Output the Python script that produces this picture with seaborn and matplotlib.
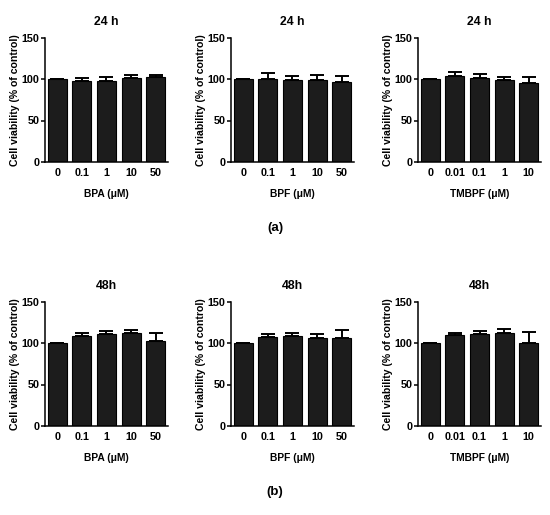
import numpy as np
import pandas as pd
import matplotlib
matplotlib.use("Agg")
import matplotlib.pyplot as plt
import seaborn as sns

# concentrations (tick labels) per compound
bpa_doses = ["0", "0.1", "1", "10", "50"]
bpf_doses = ["0", "0.1", "1", "10", "50"]
tmbpf_doses = ["0", "0.01", "0.1", "1", "10"]

# 24 h viability (% of control) and SD
bpa_24 = [100, 97, 98, 101, 102]
bpa_24_sd = [0, 4, 4.5, 4, 3]
bpf_24 = [100, 100, 99, 99, 96.5]
bpf_24_sd = [0, 7, 5, 5.5, 7]
tmbpf_24 = [100, 104, 101.5, 99, 95.5]
tmbpf_24_sd = [0, 4, 4.5, 3.5, 7]

# 48 h viability (% of control) and SD
bpa_48 = [100, 108.5, 111, 112, 103]
bpa_48_sd = [0, 4, 3, 4, 9.5]
bpf_48 = [100, 107, 108, 106.5, 106.5]
bpf_48_sd = [0, 3.5, 4, 4.5, 9]
tmbpf_48 = [100, 110, 111, 112, 99.5]
tmbpf_48_sd = [0, 1.5, 3.5, 4.5, 14]

sns.set_style("ticks")
plt.rcParams["font.family"] = ["Liberation Sans", "DejaVu Sans"]
plt.rcParams["font.weight"] = "bold"
plt.rcParams["text.color"] = "black"
plt.rcParams["axes.labelcolor"] = "black"

fig = plt.figure(figsize=(5.5, 5.15), dpi=100)
W, H = 550.0, 515.0


def panel(left_px, bottom_px, doses, vals, sds, title, xlabel):
    ax = fig.add_axes([left_px / W, (H - bottom_px) / H, 123 / W, 124.5 / H])
    df = pd.DataFrame({"dose": doses, "viability": vals})
    sns.barplot(data=df, x="dose", y="viability", order=doses, color="#1c1c1c",
                edgecolor="black", linewidth=0.8, width=0.77, ax=ax)
    x = np.arange(len(doses))
    lower = np.zeros(len(sds))
    ax.errorbar(x, vals, yerr=[lower, sds], fmt="none", ecolor="black",
                elinewidth=1.4, capsize=5, capthick=1.4)
    ax.set_xlim(-0.5, len(doses) - 0.5)
    ax.set_ylim(0, 150)
    ax.set_yticks([0, 50, 100, 150])
    sns.despine(ax=ax)
    for s in ["left", "bottom"]:
        ax.spines[s].set_linewidth(1.1)
        ax.spines[s].set_color("black")
    ax.tick_params(axis="y", length=3, width=1.1, labelsize=7.8, pad=1, colors="black")
    ax.tick_params(axis="x", length=0, labelsize=7.8, pad=4, colors="black")
    for lab in ax.get_xticklabels() + ax.get_yticklabels():
        lab.set_fontweight("bold")
    ax.set_title(title, fontsize=8.8, fontweight="bold", pad=9, color="black")
    ax.set_xlabel(xlabel, fontsize=7.4, fontweight="bold", labelpad=8)
    ax.set_ylabel("Cell viability (% of control)", fontsize=7.6, fontweight="bold", labelpad=1)
    return ax


lefts = [45, 231, 418]
panel(lefts[0], 162, bpa_doses, bpa_24, bpa_24_sd, "24 h", "BPA (\u03bcM)")
panel(lefts[1], 162, bpf_doses, bpf_24, bpf_24_sd, "24 h", "BPF (\u03bcM)")
panel(lefts[2], 162, tmbpf_doses, tmbpf_24, tmbpf_24_sd, "24 h", "TMBPF (\u03bcM)")
panel(lefts[0], 426, bpa_doses, bpa_48, bpa_48_sd, "48h", "BPA (\u03bcM)")
panel(lefts[1], 426, bpf_doses, bpf_48, bpf_48_sd, "48h", "BPF (\u03bcM)")
panel(lefts[2], 426, tmbpf_doses, tmbpf_48, tmbpf_48_sd, "48h", "TMBPF (\u03bcM)")

fig.text(0.5, 1 - 228 / H, "(a)", ha="center", va="center", fontsize=9.5, fontweight="bold")
fig.text(0.5, 1 - 492 / H, "(b)", ha="center", va="center", fontsize=9.5, fontweight="bold")

fig.savefig("out.png", dpi=100, facecolor="white")
